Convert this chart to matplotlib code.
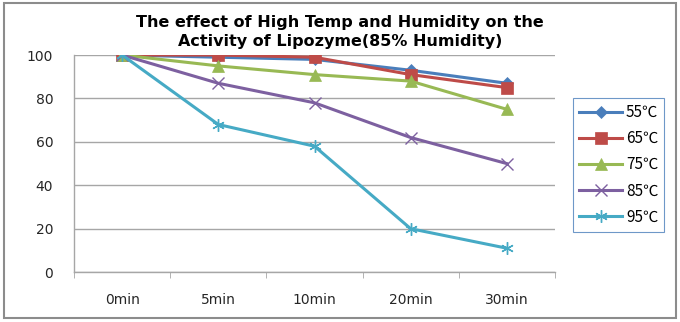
import numpy as np
import matplotlib
matplotlib.use('Agg')
import matplotlib.pyplot as plt
from matplotlib.patches import Rectangle

# data
times = ['0min', '5min', '10min', '20min', '30min']
labels = ['55℃', '65℃', '75℃', '85℃', '95℃']
t55 = [100, 99, 98, 93, 87]
t65 = [100, 100, 99, 91, 85]
t75 = [100, 95, 91, 88, 75]
t85 = [100, 87, 78, 62, 50]
t95 = [100, 68, 58, 20, 11]

series = [t55, t65, t75, t85, t95]
colors = ['#4A7EBB', '#BE4B48', '#98B954', '#7D60A0', '#46AAC5']
markers = ['D', 's', '^', 'x', (6, 2, 0)]
msizes = [6, 8, 8, 8, 9]
medges = [0.5, 0.5, 0.5, 1.0, 1.0]

plt.rcParams['font.family'] = ['DejaVu Sans']

fig = plt.figure(figsize=(6.8, 3.22), dpi=100)
ax = fig.add_axes([0.109, 0.155, 0.707, 0.674])

x = np.arange(len(times))
for vals, lab, c, m, ms, mew in zip(series, labels, colors, markers, msizes, medges):
    ax.plot(x, vals, color=c, lw=2.2, marker=m, markersize=ms,
            markeredgecolor=c, markeredgewidth=mew, label=lab, zorder=3)

ax.set_xlim(-0.5, len(times) - 0.5)
ax.set_ylim(0, 100)
ax.set_yticks(np.arange(0, 101, 20))
ax.yaxis.grid(True, color='#A6A6A6', lw=1)
ax.set_axisbelow(True)

ax.set_xticks(x)
ax.set_xticklabels(times)
ax.set_xticks(np.arange(-0.5, len(times), 1), minor=True)
ax.tick_params(axis='x', which='major', length=0, pad=15, labelsize=10, colors='#262626')
ax.tick_params(axis='x', which='minor', length=4, color='#A6A6A6', direction='out')
ax.tick_params(axis='y', length=0, pad=15, labelsize=10, colors='#262626')

for s in ['top', 'right']:
    ax.spines[s].set_visible(False)
for s in ['left', 'bottom']:
    ax.spines[s].set_color('#A6A6A6')
    ax.spines[s].set_linewidth(1)

fig.text(0.5, 0.952, 'The effect of High Temp and Humidity on the\nActivity of Lipozyme(85% Humidity)',
         ha='center', va='top', fontsize=11.5, fontweight='bold',
         family=['DejaVu Sans'], linespacing=1.3)

leg = fig.legend(loc='upper left', bbox_to_anchor=(0.843, 0.696),
                 frameon=True, fancybox=False,
                 handlelength=2.8, labelspacing=0.6, borderpad=0.4,
                 handletextpad=0.25, borderaxespad=0,
                 prop={'family': ['Noto Sans CJK SC', 'DejaVu Sans'], 'size': 11})
leg.get_frame().set_edgecolor('#4A7EBB')
leg.get_frame().set_linewidth(0.8)

fig.patches.append(Rectangle((0.006, 0.012), 0.988, 0.978, transform=fig.transFigure,
                             fill=False, edgecolor='#8C8C8C', lw=1.5))

fig.savefig('out.png', dpi=100)
